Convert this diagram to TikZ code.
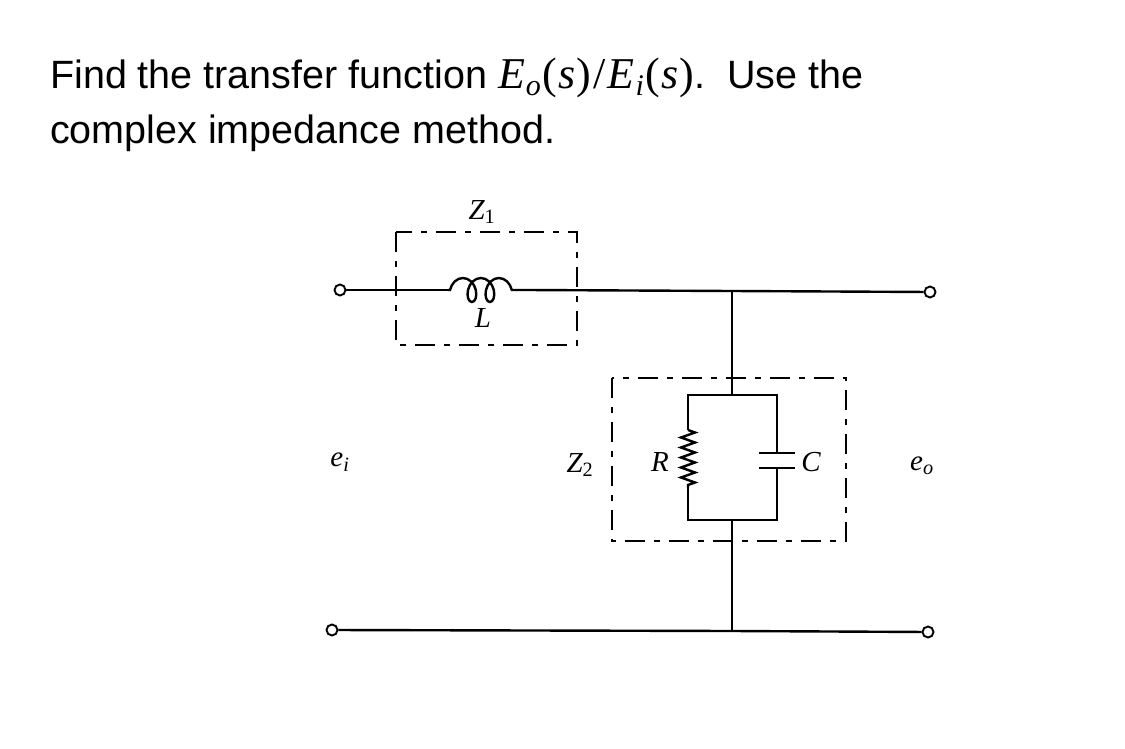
\documentclass[tikz,border=0pt]{standalone}
\usepackage{fontspec}
\setmainfont{Liberation Serif}
\newfontfamily\titlefont{Liberation Sans}
\newfontfamily\mathlike{Liberation Serif}
\usetikzlibrary{decorations.pathmorphing}
\newcommand{\mE}[1]{{\mathlike\fontsize{44}{46}\selectfont\itshape E\kern1pt}\raisebox{-7pt}{\mathlike\itshape\fontsize{30}{32}\selectfont #1}{\mathlike\fontsize{44}{46}\selectfont\kern2pt(\kern1pt\itshape s\kern1pt\upshape)}}
\begin{document}
\begin{tikzpicture}[x=1pt,y=-1pt,
  wire/.style={line width=2.4pt},
  term/.style={circle,draw,line width=1.9pt,minimum size=11pt,inner sep=0pt,fill=white},
  zbox/.style={line width=1.4pt,dash pattern=on 20pt off 9pt on 6pt off 9pt},
  lbl/.style={font=\fontsize{29}{31}\selectfont\itshape},
  title/.style={anchor=west,font=\titlefont\fontsize{39.5}{46}\selectfont,inner sep=0pt}]
\useasboundingbox (0,0) rectangle (1125,749);
\node[title] (t1) at (50,78) {Find the transfer function \mE{o}{\mathlike\fontsize{44}{46}\selectfont\kern2pt/\kern2pt}\mE{i}.\ \ Use the};
\node[title] (t2) at (50,133) {complex impedance method.};
% terminals
\node[term] (a) at (340,290) {};
\node[term] (b) at (930,292) {};
\node[term] (c) at (332,630) {};
\node[term] (d) at (928,632) {};
\coordinate (l1) at (448,290);
\coordinate (l2) at (526,290);
\coordinate (j1) at (732,291);
\coordinate (j2) at (732,631);
\coordinate (rt) at (732,395);
\coordinate (rb) at (732,520);
\coordinate (tl) at (688,395);
\coordinate (tr) at (777,395);
\coordinate (bl) at (688,520);
\coordinate (br) at (777,520);
\coordinate (r1) at (688,430);
\coordinate (r2) at (688,488);
\coordinate (c1) at (777,453);
\coordinate (c2) at (777,468);
\draw[wire] (a) -- (l1);
\draw[wire,decorate,decoration={coil,aspect=0.7,segment length=18pt,amplitude=12pt,pre length=2pt,post length=2pt}] (l1) -- (l2);
\draw[wire] (l2) -- (j1) -- (b);
\draw[wire] (c) -- (j2) -- (d);
\draw[wire] (j1) -- (rt);
\draw[wire] (rb) -- (j2);
\draw[wire] (r1) -- (tl) -- (tr) -- (c1);
\draw[wire] (r2) -- (bl) -- (br) -- (c2);
\draw[wire,decorate,decoration={zigzag,amplitude=7pt,segment length=10pt}] (r1) -- (r2);
\draw[wire] ([xshift=-18pt]c1) -- ([xshift=18pt]c1);
\draw[wire] ([xshift=-18pt]c2) -- ([xshift=18pt]c2);
% dashed boxes
\draw[zbox] (396,232) rectangle (577,345);
\draw[zbox] (612,378) rectangle (846,541);
% labels
\node[lbl] (z1) at (482,212) {Z\textsubscript{\upshape 1}};
\node[lbl] (lL) at (483,318) {L};
\node[lbl] (z2) at (580,465) {Z\textsubscript{\upshape 2}};
\node[lbl] (lR) at (660,462) {R};
\node[lbl] (lC) at (811,462) {C};
\node[lbl] (ei) at (340,462) {e\textsubscript{i}};
\node[lbl] (eo) at (922,466) {e\textsubscript{o}};
\end{tikzpicture}
\end{document}
